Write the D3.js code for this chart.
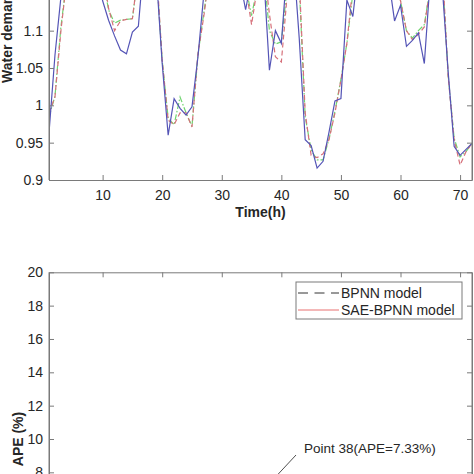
<!DOCTYPE html>
<html>
<head>
<meta charset="utf-8">
<script src="https://cdn.jsdelivr.net/npm/d3@7"></script>
<style>
  body { margin: 0; background: #fff; }
  svg { display: block; font-family: "Liberation Sans", Arial, sans-serif; }
</style>
</head>
<body>
<div id="wrapper"></div>
<script>
// hours 1..72
const hours = d3.range(1, 73)

// water demand (top panel)
const actual = [0.963,1.067,1.145,1.19,1.21,1.22,1.21,1.2,1.18,1.14,1.114,1.093,1.074,1.069,1.098,1.106,1.2,1.21,1.176,1.056,
  0.96,1.009,0.996,0.987,0.998,1.065,1.15,1.2,1.22,1.22,1.21,1.19,1.17,1.128,1.17,1.19,1.18,1.047,1.1,1.083,
  1.19,1.2,1.09,0.954,0.946,0.916,0.925,0.964,1.006,1.009,1.141,1.119,1.19,1.21,1.22,1.21,1.2,1.17,1.113,1.134,
  1.079,1.087,1.097,1.056,1.17,1.2,1.16,1.045,0.945,0.933,0.941,0.949]
const bpnnPred = [0.99,1.011,1.1,1.17,1.2,1.21,1.22,1.21,1.2,1.18,1.13,1.1,1.113,1.115,1.116,1.18,1.21,1.22,1.19,1.06,
  0.98,0.974,0.99,0.99,0.971,1.069,1.12,1.18,1.21,1.22,1.22,1.2,1.18,1.16,1.108,1.16,1.19,1.122,1.065,1.058,
  1.15,1.2,1.17,0.99,0.933,0.93,0.935,0.954,0.99,1.034,1.083,1.16,1.18,1.2,1.21,1.22,1.21,1.19,1.16,1.14,
  1.1,1.088,1.095,1.105,1.16,1.19,1.19,1.038,0.954,0.92,0.938,0.949]
const saePred = [0.985,1.012,1.105,1.17,1.2,1.21,1.21,1.21,1.2,1.17,1.128,1.11,1.114,1.115,1.116,1.18,1.2,1.21,1.18,1.06,
  0.983,0.974,1.011,0.99,0.972,1.067,1.125,1.18,1.21,1.22,1.21,1.2,1.18,1.16,1.12,1.16,1.18,1.1,1.082,1.085,
  1.16,1.19,1.16,0.985,0.94,0.927,0.927,0.955,0.992,1.035,1.083,1.15,1.18,1.2,1.21,1.21,1.2,1.18,1.16,1.14,
  1.1,1.09,1.1,1.108,1.16,1.19,1.18,1.04,0.956,0.931,0.938,0.949]

// APE in % (bottom panel)
const bpnnApe = [2.8,5.3,3.9,1.7,0.9,0.8,1.0,0.8,1.7,3.5,1.4,0.6,3.6,4.3,1.6,6.5,0.8,0.8,1.2,0.4,
  2.1,3.5,0.6,0.3,2.7,0.4,2.6,1.7,0.8,0.2,0.9,0.8,0.9,2.8,5.3,2.5,0.9,7.33,3.2,2.3,
  3.4,0.1,6.8,3.8,1.3,1.5,1.1,1.1,1.6,2.5,5.1,3.7,0.9,0.7,0.8,1.0,0.8,1.7,4.3,0.6,
  2.0,0.2,0.2,4.6,0.8,0.9,2.6,0.7,0.9,1.4,0.3,0.1]
const saeApe = [2.3,5.2,3.5,1.6,0.8,0.7,0.9,0.8,1.5,2.8,1.2,1.5,3.7,4.2,1.6,6.2,0.6,0.7,0.8,0.3,
  2.4,3.4,1.5,0.3,2.6,0.2,2.2,1.6,0.7,0.1,0.8,0.7,0.8,2.7,4.3,2.4,0.7,5.1,1.6,0.2,
  2.5,0.5,6.4,3.2,0.6,1.2,0.2,0.9,1.4,2.6,5.1,2.8,0.9,0.6,0.8,0.8,0.7,1.4,4.1,0.5,
  2.0,0.3,0.4,4.8,0.7,0.9,1.7,0.6,1.1,0.3,0.3,0.1]

// only the ticks that fall inside the visible window
const demandTicks = [0.9, 0.95, 1, 1.05, 1.1]
const apeTicks = [8, 10, 12, 14, 16, 18, 20]
const timeTicks = [10, 20, 30, 40, 50, 60, 70]

const width = 474, height = 474
const left = 49, right = 472
const axisGrey = "#7a7a7a"
const textCol = "#262626"

const svg = d3.select("#wrapper").append("svg")
  .attr("width", width)
  .attr("height", height)

const xScale = d3.scaleLinear().domain([1, 72]).range([left, right])

// ---------- top panel ----------
const topBottom = 180
const yDemand = d3.scaleLinear().domain([0.9, 1.25]).range([topBottom, topBottom - 0.35 * 746.7])
const topTop = yDemand(1.25)

svg.append("clipPath").attr("id", "clipTop")
  .append("rect")
    .attr("x", left).attr("y", topTop)
    .attr("width", right - left).attr("height", topBottom - topTop)

const line = d3.line()
  .x((d, i) => xScale(hours[i]))
  .y(d => yDemand(d))

const topLines = svg.append("g").attr("clip-path", "url(#clipTop)")
topLines.append("path")
  .attr("d", line(saePred))
  .attr("fill", "none")
  .attr("stroke", "#6fd46f")
  .attr("stroke-width", 1.2)
  .attr("stroke-dasharray", "6,2,1.5,2")
topLines.append("path")
  .attr("d", line(bpnnPred))
  .attr("fill", "none")
  .attr("stroke", "#d6707a")
  .attr("stroke-width", 1.2)
  .attr("stroke-dasharray", "5,3")
topLines.append("path")
  .attr("d", line(actual))
  .attr("fill", "none")
  .attr("stroke", "#5454b6")
  .attr("stroke-width", 1.2)

function styleAxis(g) {
  g.select(".domain").attr("stroke", axisGrey)
  g.selectAll(".tick line").attr("stroke", axisGrey)
  g.selectAll(".tick text").attr("fill", textCol).style("font-size", "14px")
}

// box lines that run past the image edge
svg.append("line")
  .attr("x1", left).attr("x2", left).attr("y1", topTop).attr("y2", topBottom)
  .attr("stroke", axisGrey)
svg.append("line")
  .attr("x1", right).attr("x2", right).attr("y1", topTop).attr("y2", topBottom)
  .attr("stroke", axisGrey)

svg.append("g")
  .attr("transform", `translate(0,${topBottom})`)
  .call(d3.axisBottom(xScale).tickValues(timeTicks).tickSize(-5).tickSizeOuter(0).tickPadding(10))
  .call(styleAxis)
svg.append("g")
  .attr("transform", `translate(${left},0)`)
  .call(d3.axisLeft(yDemand).tickValues(demandTicks).tickSize(-5).tickSizeOuter(0).tickPadding(6)
    .tickFormat(d3.format("~g")))
  .call(styleAxis)
svg.append("g")
  .attr("transform", `translate(${right},0)`)
  .call(d3.axisRight(yDemand).tickValues(demandTicks).tickSize(-5).tickSizeOuter(0).tickFormat(""))
  .call(styleAxis)

svg.append("text")
  .attr("x", (left + right) / 2)
  .attr("y", 217)
  .attr("text-anchor", "middle")
  .attr("font-weight", "bold")
  .attr("font-size", 14)
  .attr("fill", textCol)
  .text("Time(h)")

svg.append("text")
  .attr("transform", "translate(12,83) rotate(-90)")
  .attr("text-anchor", "start")
  .attr("font-weight", "bold")
  .attr("font-size", 14)
  .attr("fill", textCol)
  .text("Water demand (10⁴ m³)")

// ---------- bottom panel ----------
const botTop = 272.3
const yApe = d3.scaleLinear().domain([0, 20]).range([botTop + 20 * 16.67, botTop])
const botBottom = yApe(0)

svg.append("clipPath").attr("id", "clipBot")
  .append("rect")
    .attr("x", left).attr("y", botTop)
    .attr("width", right - left).attr("height", botBottom - botTop)

const apeLine = d3.line()
  .x((d, i) => xScale(hours[i]))
  .y(d => yApe(d))

const botLines = svg.append("g").attr("clip-path", "url(#clipBot)")
botLines.append("path")
  .attr("d", apeLine(bpnnApe))
  .attr("fill", "none")
  .attr("stroke", "#333")
  .attr("stroke-width", 1)
  .attr("stroke-dasharray", "10,6.5")
botLines.append("path")
  .attr("d", apeLine(saeApe))
  .attr("fill", "none")
  .attr("stroke", "#e06060")
  .attr("stroke-width", 1)

svg.append("line")
  .attr("x1", left).attr("x2", left).attr("y1", botTop).attr("y2", botBottom)
  .attr("stroke", axisGrey)
svg.append("line")
  .attr("x1", right).attr("x2", right).attr("y1", botTop).attr("y2", botBottom)
  .attr("stroke", axisGrey)

svg.append("g")
  .attr("transform", `translate(0,${botTop})`)
  .call(d3.axisTop(xScale).tickValues(timeTicks).tickSize(-5).tickSizeOuter(0).tickFormat(""))
  .call(styleAxis)
svg.append("g")
  .attr("transform", `translate(${left},0)`)
  .call(d3.axisLeft(yApe).tickValues(apeTicks).tickSize(-5).tickSizeOuter(0).tickPadding(6))
  .call(styleAxis)
svg.append("g")
  .attr("transform", `translate(${right},0)`)
  .call(d3.axisRight(yApe).tickValues(apeTicks).tickSize(-5).tickSizeOuter(0).tickFormat(""))
  .call(styleAxis)

svg.append("text")
  .attr("transform", `translate(23,${yApe(10)}) rotate(-90)`)
  .attr("text-anchor", "middle")
  .attr("font-weight", "bold")
  .attr("font-size", 14)
  .attr("fill", textCol)
  .text("APE (%)")

// legend
const legend = svg.append("g").attr("transform", "translate(296,282)")
legend.append("rect")
  .attr("width", 166)
  .attr("height", 37)
  .attr("fill", "#fff")
  .attr("stroke", axisGrey)
legend.append("line")
  .attr("x1", 2).attr("x2", 43).attr("y1", 11).attr("y2", 11)
  .attr("stroke", "#333").attr("stroke-dasharray", "10,6.5")
legend.append("line")
  .attr("x1", 2).attr("x2", 43).attr("y1", 28).attr("y2", 28)
  .attr("stroke", "#e87070")
legend.append("text")
  .attr("x", 45).attr("y", 16)
  .attr("font-size", 14).attr("fill", textCol)
  .text("BPNN model")
legend.append("text")
  .attr("x", 45).attr("y", 33)
  .attr("font-size", 14).attr("fill", textCol)
  .text("SAE-BPNN model")

// annotation for point 38
const px = xScale(38), py = yApe(bpnnApe[37])
svg.append("defs").append("marker")
  .attr("id", "arrow")
  .attr("viewBox", "0 0 10 10")
  .attr("refX", 10).attr("refY", 5)
  .attr("markerWidth", 7).attr("markerHeight", 7)
  .attr("orient", "auto")
  .append("path")
    .attr("d", "M0,0L10,5L0,10z")
    .attr("fill", "#222")
svg.append("line")
  .attr("x1", 296).attr("y1", 455)
  .attr("x2", px).attr("y2", py)
  .attr("stroke", "#222")
  .attr("stroke-width", 0.8)
  .attr("marker-end", "url(#arrow)")
svg.append("text")
  .attr("x", 304).attr("y", 453)
  .attr("font-size", 13.5).attr("fill", textCol)
  .text("Point 38(APE=7.33%)")
</script>
</body>
</html>
